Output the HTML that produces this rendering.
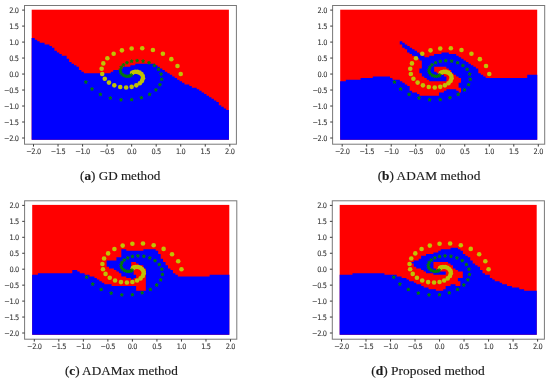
<!DOCTYPE html>
<html><head><meta charset="utf-8"><title>Figure</title><style>html,body{margin:0;padding:0;background:#fff}svg{display:block}</style></head><body>
<svg width="550" height="383" viewBox="0 0 550 383">
<rect width="550" height="383" fill="#fff"/>
<g>
<rect x="31.70" y="9.70" width="197.20" height="130.10" fill="#ff0000"/>
<path fill="#0000ff" d="M31.65 38.08H34.78V139.80H31.65zM34.68 39.68H37.23V139.80H34.68zM37.13 41.28H39.68V139.80H37.13zM39.58 42.87H42.14V139.80H39.58zM42.04 42.87H44.59V139.80H42.04zM44.49 44.47H47.05V139.80H44.49zM46.95 44.47H49.50V139.80H46.95zM49.40 46.07H51.95V139.80H49.40zM51.85 47.67H54.41V139.80H51.85zM54.31 50.87H56.86V139.80H54.31zM56.76 52.47H59.31V139.80H56.76zM59.21 54.07H61.77V139.80H59.21zM61.67 55.66H64.22V139.80H61.67zM64.12 55.66H66.68V139.80H64.12zM66.58 58.86H69.13V139.80H66.58zM69.03 62.06H71.58V139.80H69.03zM71.48 63.66H74.04V139.80H71.48zM73.94 65.26H76.49V139.80H73.94zM76.39 66.86H78.94V139.80H76.39zM78.84 70.05H81.40V139.80H78.84zM81.30 71.65H83.85V139.80H81.30zM83.75 73.25H86.31V139.80H83.75zM86.21 73.25H88.76V139.80H86.21zM88.66 73.25H91.21V139.80H88.66zM91.11 73.25H93.67V139.80H91.11zM93.57 73.25H96.12V139.80H93.57zM96.02 73.25H98.57V139.80H96.02zM98.47 73.25H101.03V139.80H98.47zM100.93 73.25H103.48V139.80H100.93zM103.38 73.25H105.94V139.80H103.38zM105.84 73.25H108.39V139.80H105.84zM108.29 73.25H110.84V139.80H108.29zM110.74 71.65H113.30V139.80H110.74zM113.20 70.05H115.75V139.80H113.20zM115.65 70.05H118.20V139.80H115.65zM118.10 70.05H120.66V139.80H118.10zM120.56 68.45H123.11V139.80H120.56zM123.01 66.86H125.57V139.80H123.01zM125.47 66.86H128.02V139.80H125.47zM127.92 66.86H130.47V139.80H127.92zM130.37 65.26H132.93V139.80H130.37zM132.83 65.26H135.38V139.80H132.83zM135.28 63.66H137.83V139.80H135.28zM137.73 63.66H140.29V139.80H137.73zM140.19 63.66H142.74V139.80H140.19zM142.64 63.66H145.20V139.80H142.64zM145.10 63.66H147.65V139.80H145.10zM147.55 63.66H150.10V139.80H147.55zM150.00 63.66H152.56V139.80H150.00zM152.46 63.66H155.01V139.80H152.46zM154.91 65.26H157.46V139.80H154.91zM157.36 66.86H159.92V139.80H157.36zM159.82 68.45H162.37V139.80H159.82zM162.27 70.05H164.83V139.80H162.27zM164.73 71.65H167.28V139.80H164.73zM167.18 73.25H169.73V139.80H167.18zM169.63 74.85H172.19V139.80H169.63zM172.09 76.45H174.64V139.80H172.09zM174.54 78.05H177.09V139.80H174.54zM176.99 79.65H179.55V139.80H176.99zM179.45 81.24H182.00V139.80H179.45zM181.90 82.84H184.46V139.80H181.90zM184.36 84.44H186.91V139.80H184.36zM186.81 84.44H189.36V139.80H186.81zM189.26 86.04H191.82V139.80H189.26zM191.72 87.64H194.27V139.80H191.72zM194.17 87.64H196.72V139.80H194.17zM196.62 89.24H199.18V139.80H196.62zM199.08 90.84H201.63V139.80H199.08zM201.53 92.44H204.09V139.80H201.53zM203.99 94.03H206.54V139.80H203.99zM206.44 95.63H208.99V139.80H206.44zM208.89 97.23H211.45V139.80H208.89zM211.35 98.83H213.90V139.80H211.35zM213.80 100.43H216.35V139.80H213.80zM216.25 102.03H218.81V139.80H216.25zM218.71 105.23H221.26V139.80H218.71zM221.16 106.82H223.72V139.80H221.16zM223.62 108.42H226.17V139.80H223.62zM226.07 110.02H228.95V139.80H226.07z"/>
<g fill="#c0c204"><circle cx="180.73" cy="74.05" r="2.30"/><circle cx="177.47" cy="66.05" r="2.30"/><circle cx="171.32" cy="59.13" r="2.30"/><circle cx="162.88" cy="53.70" r="2.30"/><circle cx="152.92" cy="50.05" r="2.30"/><circle cx="142.23" cy="48.31" r="2.30"/><circle cx="131.65" cy="48.47" r="2.30"/><circle cx="121.91" cy="50.37" r="2.30"/><circle cx="113.66" cy="53.74" r="2.30"/><circle cx="107.36" cy="58.22" r="2.30"/><circle cx="103.32" cy="63.39" r="2.30"/><circle cx="101.63" cy="68.81" r="2.30"/><circle cx="102.20" cy="74.05" r="2.30"/><circle cx="104.79" cy="78.74" r="2.30"/><circle cx="108.98" cy="82.58" r="2.30"/><circle cx="114.30" cy="85.35" r="2.30"/><circle cx="120.20" cy="86.97" r="2.30"/><circle cx="126.15" cy="87.43" r="2.30"/><circle cx="131.65" cy="86.84" r="2.30"/><circle cx="136.31" cy="85.37" r="2.30"/><circle cx="139.83" cy="83.28" r="2.30"/><circle cx="142.06" cy="80.83" r="2.30"/><circle cx="142.98" cy="78.31" r="2.30"/><circle cx="142.71" cy="75.98" r="2.30"/><circle cx="141.47" cy="74.05" r="2.30"/><circle cx="139.55" cy="72.67" r="2.30"/><circle cx="137.32" cy="71.92" r="2.30"/><circle cx="135.12" cy="71.79" r="2.30"/><circle cx="133.29" cy="72.20" r="2.30"/><circle cx="132.07" cy="73.02" r="2.30"/></g>
<g fill="#008000" stroke="#008000" stroke-width="0.7" stroke-linejoin="round"><polygon points="85.83,80.30 86.30,81.40 87.49,81.51 86.59,82.30 86.86,83.47 85.83,82.85 84.80,83.47 85.07,82.30 84.16,81.51 85.36,81.40"/><polygon points="91.98,87.22 92.45,88.32 93.65,88.43 92.74,89.22 93.01,90.39 91.98,89.77 90.95,90.39 91.22,89.22 90.32,88.43 91.51,88.32"/><polygon points="100.42,92.65 100.89,93.75 102.08,93.86 101.18,94.65 101.45,95.81 100.42,95.20 99.39,95.81 99.66,94.65 98.75,93.86 99.95,93.75"/><polygon points="110.38,96.30 110.85,97.40 112.05,97.51 111.15,98.30 111.41,99.46 110.38,98.85 109.36,99.46 109.62,98.30 108.72,97.51 109.91,97.40"/><polygon points="121.07,98.04 121.54,99.14 122.73,99.25 121.83,100.04 122.09,101.20 121.07,100.59 120.04,101.20 120.30,100.04 119.40,99.25 120.60,99.14"/><polygon points="131.65,97.88 132.12,98.98 133.31,99.09 132.41,99.88 132.68,101.05 131.65,100.43 130.62,101.05 130.89,99.88 129.99,99.09 131.18,98.98"/><polygon points="141.39,95.98 141.86,97.08 143.05,97.19 142.15,97.98 142.42,99.14 141.39,98.53 140.36,99.14 140.63,97.98 139.72,97.19 140.92,97.08"/><polygon points="149.64,92.61 150.11,93.71 151.31,93.82 150.41,94.60 150.67,95.77 149.64,95.16 148.62,95.77 148.88,94.60 147.98,93.82 149.17,93.71"/><polygon points="155.94,88.13 156.41,89.23 157.61,89.34 156.70,90.12 156.97,91.29 155.94,90.68 154.91,91.29 155.18,90.12 154.28,89.34 155.47,89.23"/><polygon points="159.98,82.96 160.45,84.06 161.65,84.17 160.74,84.96 161.01,86.12 159.98,85.51 158.95,86.12 159.22,84.96 158.32,84.17 159.51,84.06"/><polygon points="161.67,77.54 162.14,78.64 163.34,78.75 162.43,79.54 162.70,80.71 161.67,80.09 160.64,80.71 160.91,79.54 160.01,78.75 161.20,78.64"/><polygon points="161.10,72.30 161.57,73.40 162.76,73.51 161.86,74.30 162.12,75.47 161.10,74.85 160.07,75.47 160.33,74.30 159.43,73.51 160.62,73.40"/><polygon points="158.51,67.61 158.98,68.71 160.18,68.82 159.27,69.61 159.54,70.78 158.51,70.16 157.48,70.78 157.75,69.61 156.85,68.82 158.04,68.71"/><polygon points="154.32,63.77 154.79,64.88 155.98,64.98 155.08,65.77 155.35,66.94 154.32,66.32 153.29,66.94 153.56,65.77 152.65,64.98 153.85,64.88"/><polygon points="149.00,61.00 149.47,62.10 150.66,62.20 149.76,62.99 150.03,64.16 149.00,63.55 147.97,64.16 148.24,62.99 147.34,62.20 148.53,62.10"/><polygon points="143.10,59.38 143.57,60.48 144.77,60.59 143.86,61.37 144.13,62.54 143.10,61.93 142.07,62.54 142.34,61.37 141.44,60.59 142.63,60.48"/><polygon points="137.15,58.92 137.62,60.02 138.82,60.13 137.91,60.91 138.18,62.08 137.15,61.47 136.13,62.08 136.39,60.91 135.49,60.13 136.68,60.02"/><polygon points="131.65,59.51 132.12,60.61 133.31,60.72 132.41,61.51 132.68,62.68 131.65,62.06 130.62,62.68 130.89,61.51 129.99,60.72 131.18,60.61"/><polygon points="126.99,60.98 127.46,62.08 128.66,62.18 127.75,62.97 128.02,64.14 126.99,63.53 125.96,64.14 126.23,62.97 125.33,62.18 126.52,62.08"/><polygon points="123.47,63.07 123.94,64.17 125.14,64.28 124.23,65.07 124.50,66.24 123.47,65.62 122.44,66.24 122.71,65.07 121.81,64.28 123.00,64.17"/><polygon points="121.24,65.52 121.71,66.62 122.90,66.73 122.00,67.51 122.27,68.68 121.24,68.07 120.21,68.68 120.48,67.51 119.58,66.73 120.77,66.62"/><polygon points="120.32,68.04 120.79,69.14 121.98,69.25 121.08,70.03 121.35,71.20 120.32,70.59 119.29,71.20 119.56,70.03 118.65,69.25 119.85,69.14"/><polygon points="120.59,70.37 121.06,71.47 122.25,71.58 121.35,72.37 121.62,73.53 120.59,72.92 119.56,73.53 119.83,72.37 118.92,71.58 120.12,71.47"/><polygon points="121.84,72.30 122.31,73.40 123.50,73.51 122.60,74.30 122.86,75.47 121.84,74.85 120.81,75.47 121.07,74.30 120.17,73.51 121.36,73.40"/><polygon points="123.75,73.68 124.22,74.78 125.41,74.89 124.51,75.68 124.78,76.85 123.75,76.23 122.72,76.85 122.99,75.68 122.09,74.89 123.28,74.78"/><polygon points="125.98,74.43 126.45,75.53 127.65,75.64 126.74,76.43 127.01,77.60 125.98,76.98 124.95,77.60 125.22,76.43 124.32,75.64 125.51,75.53"/><polygon points="128.18,74.56 128.65,75.66 129.84,75.77 128.94,76.56 129.21,77.73 128.18,77.11 127.15,77.73 127.42,76.56 126.52,75.77 127.71,75.66"/><polygon points="130.01,74.15 130.48,75.25 131.68,75.36 130.78,76.14 131.04,77.31 130.01,76.70 128.99,77.31 129.25,76.14 128.35,75.36 129.54,75.25"/><polygon points="131.23,73.33 131.70,74.43 132.89,74.54 131.99,75.33 132.26,76.50 131.23,75.88 130.20,76.50 130.47,75.33 129.56,74.54 130.76,74.43"/></g>
<rect x="24.50" y="5.50" width="211.90" height="138.70" fill="none" stroke="#787878" stroke-width="1"/>
<path d="M33.50 144.20v2.4M24.50 138.00h-2.4M58.04 144.20v2.4M24.50 122.01h-2.4M82.58 144.20v2.4M24.50 106.03h-2.4M107.11 144.20v2.4M24.50 90.04h-2.4M131.65 144.20v2.4M24.50 74.05h-2.4M156.19 144.20v2.4M24.50 58.06h-2.4M180.73 144.20v2.4M24.50 42.08h-2.4M205.26 144.20v2.4M24.50 26.09h-2.4M229.80 144.20v2.4M24.50 10.10h-2.4" stroke="#3a3a3a" stroke-width="1" fill="none"/>
<g font-family="'DejaVu Sans','Liberation Sans',sans-serif" font-size="6.60" fill="#333333" stroke="#333333" stroke-width="0.08" letter-spacing="-0.35" text-rendering="geometricPrecision">
<text transform="translate(33.50 153.60) scale(1 1.14)" text-anchor="middle">−2.0</text>
<text transform="translate(18.60 140.60) scale(1 1.14)" text-anchor="end">−2.0</text>
<text transform="translate(58.04 153.60) scale(1 1.14)" text-anchor="middle">−1.5</text>
<text transform="translate(18.60 124.61) scale(1 1.14)" text-anchor="end">−1.5</text>
<text transform="translate(82.58 153.60) scale(1 1.14)" text-anchor="middle">−1.0</text>
<text transform="translate(18.60 108.62) scale(1 1.14)" text-anchor="end">−1.0</text>
<text transform="translate(107.11 153.60) scale(1 1.14)" text-anchor="middle">−0.5</text>
<text transform="translate(18.60 92.64) scale(1 1.14)" text-anchor="end">−0.5</text>
<text transform="translate(131.65 153.60) scale(1 1.14)" text-anchor="middle">0.0</text>
<text transform="translate(18.60 76.65) scale(1 1.14)" text-anchor="end">0.0</text>
<text transform="translate(156.19 153.60) scale(1 1.14)" text-anchor="middle">0.5</text>
<text transform="translate(18.60 60.66) scale(1 1.14)" text-anchor="end">0.5</text>
<text transform="translate(180.73 153.60) scale(1 1.14)" text-anchor="middle">1.0</text>
<text transform="translate(18.60 44.68) scale(1 1.14)" text-anchor="end">1.0</text>
<text transform="translate(205.26 153.60) scale(1 1.14)" text-anchor="middle">1.5</text>
<text transform="translate(18.60 28.69) scale(1 1.14)" text-anchor="end">1.5</text>
<text transform="translate(229.80 153.60) scale(1 1.14)" text-anchor="middle">2.0</text>
<text transform="translate(18.60 12.70) scale(1 1.14)" text-anchor="end">2.0</text>
</g>
<text x="80.10" y="180.30" textLength="80.20" lengthAdjust="spacingAndGlyphs" stroke="#1a1a1a" stroke-width="0.15" font-family="'Liberation Serif',serif" font-size="12.6" fill="#1a1a1a">(<tspan font-weight="bold">a</tspan>) GD method</text>
</g>
<g>
<rect x="340.20" y="9.70" width="197.00" height="130.10" fill="#ff0000"/>
<path fill="#0000ff" d="M340.15 81.24H343.48V139.80H340.15zM343.38 81.24H345.93V139.80H343.38zM345.83 79.65H348.38V139.80H345.83zM348.28 79.65H350.83V139.80H348.28zM350.73 79.65H353.28V139.80H350.73zM353.18 79.65H355.73V139.80H353.18zM355.63 79.65H358.18V139.80H355.63zM358.08 79.65H360.63V139.80H358.08zM360.53 78.05H363.09V139.80H360.53zM362.99 78.05H365.54V139.80H362.99zM365.44 78.05H367.99V139.80H365.44zM367.89 78.05H370.44V139.80H367.89zM370.34 78.05H372.89V139.80H370.34zM372.79 76.45H375.34V139.80H372.79zM375.24 76.45H377.79V139.80H375.24zM377.69 76.45H380.24V139.80H377.69zM380.14 76.45H382.70V139.80H380.14zM382.60 76.45H385.15V139.80H382.60zM385.05 76.45H387.60V139.80H385.05zM387.50 76.45H390.05V139.80H387.50zM389.95 78.05H392.50V139.80H389.95zM392.40 79.65H394.95V139.80H392.40zM394.85 79.65H397.40V139.80H394.85zM397.30 79.65H399.85V139.80H397.30zM399.75 41.28H402.31V44.47H399.75zM399.75 81.24H402.31V139.80H399.75zM402.21 42.87H404.76V47.67H402.21zM402.21 82.84H404.76V139.80H402.21zM404.66 44.47H407.21V49.27H404.66zM404.66 84.44H407.21V139.80H404.66zM407.11 46.07H409.66V52.47H407.11zM407.11 86.04H409.66V139.80H407.11zM409.56 47.67H412.11V54.07H409.56zM409.56 90.84H412.11V139.80H409.56zM412.01 49.27H414.56V55.66H412.01zM412.01 92.44H414.56V139.80H412.01zM414.46 50.87H417.01V57.26H414.46zM414.46 92.44H417.01V139.80H414.46zM416.91 52.47H419.46V58.86H416.91zM416.91 94.03H419.46V139.80H416.91zM419.36 54.07H421.92V60.46H419.36zM419.36 68.45H421.92V73.25H419.36zM419.36 95.63H421.92V139.80H419.36zM421.82 55.66H424.37V76.45H421.82zM421.82 95.63H424.37V139.80H421.82zM424.27 57.26H426.82V78.05H424.27zM424.27 95.63H426.82V139.80H424.27zM426.72 57.26H429.27V79.65H426.72zM426.72 95.63H429.27V139.80H426.72zM429.17 55.66H431.72V81.24H429.17zM429.17 95.63H431.72V139.80H429.17zM431.62 55.66H434.17V81.24H431.62zM431.62 95.63H434.17V139.80H431.62zM434.07 54.07H436.62V66.86H434.07zM434.07 71.65H436.62V81.24H434.07zM434.07 95.63H436.62V139.80H434.07zM436.52 54.07H439.07V66.86H436.52zM436.52 73.25H439.07V81.24H436.52zM436.52 95.63H439.07V139.80H436.52zM438.97 54.07H441.53V66.86H438.97zM438.97 74.85H441.53V81.24H438.97zM438.97 92.44H441.53V139.80H438.97zM441.43 52.47H443.98V66.86H441.43zM441.43 74.85H443.98V81.24H441.43zM441.43 92.44H443.98V139.80H441.43zM443.88 52.47H446.43V66.86H443.88zM443.88 76.45H446.43V81.24H443.88zM443.88 90.84H446.43V139.80H443.88zM446.33 52.47H448.88V68.45H446.33zM446.33 89.24H448.88V139.80H446.33zM448.78 54.07H451.33V70.05H448.78zM448.78 89.24H451.33V139.80H448.78zM451.23 54.07H453.78V73.25H451.23zM451.23 89.24H453.78V139.80H451.23zM453.68 54.07H456.23V74.85H453.68zM453.68 89.24H456.23V139.80H453.68zM456.13 55.66H458.68V76.45H456.13zM456.13 90.84H458.68V139.80H456.13zM458.58 57.26H461.14V78.05H458.58zM458.58 82.84H461.14V87.64H458.58zM458.58 92.44H461.14V139.80H458.58zM461.04 58.86H463.59V139.80H461.04zM463.49 60.46H466.04V139.80H463.49zM465.94 62.06H468.49V139.80H465.94zM468.39 63.66H470.94V139.80H468.39zM470.84 65.26H473.39V139.80H470.84zM473.29 66.86H475.84V139.80H473.29zM475.74 68.45H478.29V139.80H475.74zM478.19 73.25H480.75V139.80H478.19zM480.65 74.85H483.20V139.80H480.65zM483.10 76.45H485.65V139.80H483.10zM485.55 78.05H488.10V139.80H485.55zM488.00 78.05H490.55V139.80H488.00zM490.45 78.05H493.00V139.80H490.45zM492.90 78.05H495.45V139.80H492.90zM495.35 78.05H497.90V139.80H495.35zM497.80 78.05H500.36V139.80H497.80zM500.26 78.05H502.81V139.80H500.26zM502.71 78.05H505.26V139.80H502.71zM505.16 78.05H507.71V139.80H505.16zM507.61 78.05H510.16V139.80H507.61zM510.06 78.05H512.61V139.80H510.06zM512.51 78.05H515.06V139.80H512.51zM514.96 78.05H517.51V139.80H514.96zM517.41 78.05H519.97V139.80H517.41zM519.87 78.05H522.42V139.80H519.87zM522.32 78.05H524.87V139.80H522.32zM524.77 78.05H527.32V139.80H524.77zM527.22 74.85H529.77V139.80H527.22zM529.67 74.85H532.22V139.80H529.67zM532.12 74.85H534.67V139.80H532.12zM534.57 74.85H537.25V139.80H534.57z"/>
<g fill="#c0c204"><circle cx="489.27" cy="74.05" r="2.30"/><circle cx="486.03" cy="66.05" r="2.30"/><circle cx="479.88" cy="59.13" r="2.30"/><circle cx="471.45" cy="53.70" r="2.30"/><circle cx="461.49" cy="50.05" r="2.30"/><circle cx="450.82" cy="48.31" r="2.30"/><circle cx="440.25" cy="48.47" r="2.30"/><circle cx="430.52" cy="50.37" r="2.30"/><circle cx="422.27" cy="53.74" r="2.30"/><circle cx="415.98" cy="58.22" r="2.30"/><circle cx="411.95" cy="63.39" r="2.30"/><circle cx="410.26" cy="68.81" r="2.30"/><circle cx="410.83" cy="74.05" r="2.30"/><circle cx="413.42" cy="78.74" r="2.30"/><circle cx="417.61" cy="82.58" r="2.30"/><circle cx="422.92" cy="85.35" r="2.30"/><circle cx="428.81" cy="86.97" r="2.30"/><circle cx="434.75" cy="87.43" r="2.30"/><circle cx="440.25" cy="86.84" r="2.30"/><circle cx="444.90" cy="85.37" r="2.30"/><circle cx="448.42" cy="83.28" r="2.30"/><circle cx="450.65" cy="80.83" r="2.30"/><circle cx="451.57" cy="78.31" r="2.30"/><circle cx="451.30" cy="75.98" r="2.30"/><circle cx="450.05" cy="74.05" r="2.30"/><circle cx="448.14" cy="72.67" r="2.30"/><circle cx="445.91" cy="71.92" r="2.30"/><circle cx="443.72" cy="71.79" r="2.30"/><circle cx="441.88" cy="72.20" r="2.30"/><circle cx="440.67" cy="73.02" r="2.30"/></g>
<g fill="#008000" stroke="#008000" stroke-width="0.7" stroke-linejoin="round"><polygon points="394.47,80.30 394.94,81.40 396.14,81.51 395.23,82.30 395.50,83.47 394.47,82.85 393.45,83.47 393.71,82.30 392.81,81.51 394.00,81.40"/><polygon points="400.62,87.22 401.09,88.32 402.29,88.43 401.38,89.22 401.65,90.39 400.62,89.77 399.59,90.39 399.86,89.22 398.96,88.43 400.15,88.32"/><polygon points="409.05,92.65 409.52,93.75 410.72,93.86 409.81,94.65 410.08,95.81 409.05,95.20 408.02,95.81 408.29,94.65 407.39,93.86 408.58,93.75"/><polygon points="419.01,96.30 419.48,97.40 420.67,97.51 419.77,98.30 420.03,99.46 419.01,98.85 417.98,99.46 418.24,98.30 417.34,97.51 418.54,97.40"/><polygon points="429.68,98.04 430.15,99.14 431.34,99.25 430.44,100.04 430.70,101.20 429.68,100.59 428.65,101.20 428.92,100.04 428.01,99.25 429.21,99.14"/><polygon points="440.25,97.88 440.72,98.98 441.91,99.09 441.01,99.88 441.28,101.05 440.25,100.43 439.22,101.05 439.49,99.88 438.59,99.09 439.78,98.98"/><polygon points="449.98,95.98 450.45,97.08 451.64,97.19 450.74,97.98 451.01,99.14 449.98,98.53 448.95,99.14 449.22,97.98 448.31,97.19 449.51,97.08"/><polygon points="458.23,92.61 458.70,93.71 459.89,93.82 458.99,94.60 459.25,95.77 458.23,95.16 457.20,95.77 457.46,94.60 456.56,93.82 457.76,93.71"/><polygon points="464.52,88.13 464.99,89.23 466.18,89.34 465.28,90.12 465.54,91.29 464.52,90.68 463.49,91.29 463.76,90.12 462.85,89.34 464.05,89.23"/><polygon points="468.55,82.96 469.02,84.06 470.22,84.17 469.32,84.96 469.58,86.12 468.55,85.51 467.53,86.12 467.79,84.96 466.89,84.17 468.08,84.06"/><polygon points="470.24,77.54 470.71,78.64 471.91,78.75 471.00,79.54 471.27,80.71 470.24,80.09 469.21,80.71 469.48,79.54 468.58,78.75 469.77,78.64"/><polygon points="469.66,72.30 470.14,73.40 471.33,73.51 470.43,74.30 470.69,75.47 469.66,74.85 468.64,75.47 468.90,74.30 468.00,73.51 469.19,73.40"/><polygon points="467.08,67.61 467.55,68.71 468.75,68.82 467.85,69.61 468.11,70.78 467.08,70.16 466.06,70.78 466.32,69.61 465.42,68.82 466.61,68.71"/><polygon points="462.89,63.77 463.36,64.88 464.56,64.98 463.65,65.77 463.92,66.94 462.89,66.32 461.87,66.94 462.13,65.77 461.23,64.98 462.42,64.88"/><polygon points="457.58,61.00 458.05,62.10 459.25,62.20 458.34,62.99 458.61,64.16 457.58,63.55 456.55,64.16 456.82,62.99 455.92,62.20 457.11,62.10"/><polygon points="451.69,59.38 452.16,60.48 453.35,60.59 452.45,61.37 452.72,62.54 451.69,61.93 450.66,62.54 450.93,61.37 450.02,60.59 451.22,60.48"/><polygon points="445.75,58.92 446.22,60.02 447.41,60.13 446.51,60.91 446.78,62.08 445.75,61.47 444.72,62.08 444.99,60.91 444.08,60.13 445.28,60.02"/><polygon points="440.25,59.51 440.72,60.61 441.91,60.72 441.01,61.51 441.28,62.68 440.25,62.06 439.22,62.68 439.49,61.51 438.59,60.72 439.78,60.61"/><polygon points="435.60,60.98 436.07,62.08 437.26,62.18 436.36,62.97 436.63,64.14 435.60,63.53 434.57,64.14 434.84,62.97 433.93,62.18 435.13,62.08"/><polygon points="432.08,63.07 432.55,64.17 433.74,64.28 432.84,65.07 433.11,66.24 432.08,65.62 431.05,66.24 431.32,65.07 430.41,64.28 431.61,64.17"/><polygon points="429.85,65.52 430.32,66.62 431.51,66.73 430.61,67.51 430.88,68.68 429.85,68.07 428.82,68.68 429.09,67.51 428.19,66.73 429.38,66.62"/><polygon points="428.93,68.04 429.40,69.14 430.59,69.25 429.69,70.03 429.96,71.20 428.93,70.59 427.90,71.20 428.17,70.03 427.26,69.25 428.46,69.14"/><polygon points="429.20,70.37 429.67,71.47 430.86,71.58 429.96,72.37 430.23,73.53 429.20,72.92 428.17,73.53 428.44,72.37 427.54,71.58 428.73,71.47"/><polygon points="430.44,72.30 430.92,73.40 432.11,73.51 431.21,74.30 431.47,75.47 430.44,74.85 429.42,75.47 429.68,74.30 428.78,73.51 429.97,73.40"/><polygon points="432.36,73.68 432.83,74.78 434.02,74.89 433.12,75.68 433.39,76.85 432.36,76.23 431.33,76.85 431.60,75.68 430.69,74.89 431.89,74.78"/><polygon points="434.59,74.43 435.06,75.53 436.25,75.64 435.35,76.43 435.62,77.60 434.59,76.98 433.56,77.60 433.83,76.43 432.92,75.64 434.12,75.53"/><polygon points="436.78,74.56 437.25,75.66 438.45,75.77 437.54,76.56 437.81,77.73 436.78,77.11 435.75,77.73 436.02,76.56 435.12,75.77 436.31,75.66"/><polygon points="438.62,74.15 439.09,75.25 440.28,75.36 439.38,76.14 439.64,77.31 438.62,76.70 437.59,77.31 437.85,76.14 436.95,75.36 438.15,75.25"/><polygon points="439.83,73.33 440.30,74.43 441.49,74.54 440.59,75.33 440.86,76.50 439.83,75.88 438.80,76.50 439.07,75.33 438.16,74.54 439.36,74.43"/></g>
<rect x="332.60" y="5.50" width="212.10" height="138.70" fill="none" stroke="#787878" stroke-width="1"/>
<path d="M342.20 144.20v2.4M332.60 138.00h-2.4M366.71 144.20v2.4M332.60 122.01h-2.4M391.22 144.20v2.4M332.60 106.03h-2.4M415.74 144.20v2.4M332.60 90.04h-2.4M440.25 144.20v2.4M332.60 74.05h-2.4M464.76 144.20v2.4M332.60 58.06h-2.4M489.27 144.20v2.4M332.60 42.08h-2.4M513.79 144.20v2.4M332.60 26.09h-2.4M538.30 144.20v2.4M332.60 10.10h-2.4" stroke="#3a3a3a" stroke-width="1" fill="none"/>
<g font-family="'DejaVu Sans','Liberation Sans',sans-serif" font-size="6.60" fill="#333333" stroke="#333333" stroke-width="0.08" letter-spacing="-0.35" text-rendering="geometricPrecision">
<text transform="translate(342.20 153.60) scale(1 1.14)" text-anchor="middle">−2.0</text>
<text transform="translate(327.00 140.60) scale(1 1.14)" text-anchor="end">−2.0</text>
<text transform="translate(366.71 153.60) scale(1 1.14)" text-anchor="middle">−1.5</text>
<text transform="translate(327.00 124.61) scale(1 1.14)" text-anchor="end">−1.5</text>
<text transform="translate(391.22 153.60) scale(1 1.14)" text-anchor="middle">−1.0</text>
<text transform="translate(327.00 108.62) scale(1 1.14)" text-anchor="end">−1.0</text>
<text transform="translate(415.74 153.60) scale(1 1.14)" text-anchor="middle">−0.5</text>
<text transform="translate(327.00 92.64) scale(1 1.14)" text-anchor="end">−0.5</text>
<text transform="translate(440.25 153.60) scale(1 1.14)" text-anchor="middle">0.0</text>
<text transform="translate(327.00 76.65) scale(1 1.14)" text-anchor="end">0.0</text>
<text transform="translate(464.76 153.60) scale(1 1.14)" text-anchor="middle">0.5</text>
<text transform="translate(327.00 60.66) scale(1 1.14)" text-anchor="end">0.5</text>
<text transform="translate(489.27 153.60) scale(1 1.14)" text-anchor="middle">1.0</text>
<text transform="translate(327.00 44.68) scale(1 1.14)" text-anchor="end">1.0</text>
<text transform="translate(513.79 153.60) scale(1 1.14)" text-anchor="middle">1.5</text>
<text transform="translate(327.00 28.69) scale(1 1.14)" text-anchor="end">1.5</text>
<text transform="translate(538.30 153.60) scale(1 1.14)" text-anchor="middle">2.0</text>
<text transform="translate(327.00 12.70) scale(1 1.14)" text-anchor="end">2.0</text>
</g>
<text x="377.70" y="180.20" textLength="102.60" lengthAdjust="spacingAndGlyphs" stroke="#1a1a1a" stroke-width="0.15" font-family="'Liberation Serif',serif" font-size="12.6" fill="#1a1a1a">(<tspan font-weight="bold">b</tspan>) ADAM method</text>
</g>
<g>
<rect x="32.20" y="204.90" width="197.10" height="129.90" fill="#ff0000"/>
<path fill="#0000ff" d="M32.15 274.78H35.58V334.80H32.15zM35.48 274.78H38.03V334.80H35.48zM37.93 273.19H40.48V334.80H37.93zM40.38 273.19H42.93V334.80H40.38zM42.83 273.19H45.39V334.80H42.83zM45.29 273.19H47.84V334.80H45.29zM47.74 273.19H50.29V334.80H47.74zM50.19 273.19H52.74V334.80H50.19zM52.64 273.19H55.20V334.80H52.64zM55.10 273.19H57.65V334.80H55.10zM57.55 273.19H60.10V334.80H57.55zM60.00 273.19H62.55V334.80H60.00zM62.45 273.19H65.01V334.80H62.45zM64.91 273.19H67.46V334.80H64.91zM67.36 273.19H69.91V334.80H67.36zM69.81 273.19H72.36V334.80H69.81zM72.26 270.00H74.82V334.80H72.26zM74.72 270.00H77.27V334.80H74.72zM77.17 271.59H79.72V334.80H77.17zM79.62 273.19H82.17V334.80H79.62zM82.07 273.19H84.63V334.80H82.07zM84.53 274.78H87.08V334.80H84.53zM86.98 274.78H89.53V334.80H86.98zM89.43 276.38H91.98V334.80H89.43zM91.88 276.38H94.44V334.80H91.88zM94.34 277.97H96.89V334.80H94.34zM96.79 279.57H99.34V334.80H96.79zM99.24 281.16H101.79V334.80H99.24zM101.69 282.76H104.25V334.80H101.69zM104.15 284.35H106.70V334.80H104.15zM106.60 260.43H109.15V266.81H106.60zM106.60 284.35H109.15V334.80H106.60zM109.05 260.43H111.60V268.40H109.05zM109.05 284.35H111.60V334.80H109.05zM111.50 260.43H114.06V268.40H111.50zM111.50 285.95H114.06V334.80H111.50zM113.96 260.43H116.51V270.00H113.96zM113.96 285.95H116.51V334.80H113.96zM116.41 257.24H118.96V271.59H116.41zM116.41 285.95H118.96V334.80H116.41zM118.86 257.24H121.41V273.19H118.86zM118.86 285.95H121.41V334.80H118.86zM121.31 249.26H123.87V276.38H121.31zM121.31 285.95H123.87V334.80H121.31zM123.77 249.26H126.32V276.38H123.77zM123.77 285.95H126.32V334.80H123.77zM126.22 250.86H128.77V277.97H126.22zM126.22 285.95H128.77V334.80H126.22zM128.67 250.86H131.22V277.97H128.67zM128.67 285.95H131.22V334.80H128.67zM131.12 250.86H133.68V262.02H131.12zM131.12 268.40H133.68V279.57H131.12zM131.12 285.95H133.68V334.80H131.12zM133.58 250.86H136.13V262.02H133.58zM133.58 274.78H136.13V277.97H133.58zM133.58 285.95H136.13V334.80H133.58zM136.03 250.86H138.58V263.62H136.03zM136.03 290.73H138.58V334.80H136.03zM138.48 250.86H141.03V265.21H138.48zM138.48 290.73H141.03V334.80H138.48zM140.93 250.86H143.49V265.21H140.93zM140.93 290.73H143.49V334.80H140.93zM143.39 249.26H145.94V268.40H143.39zM143.39 290.73H145.94V334.80H143.39zM145.84 249.26H148.39V334.80H145.84zM148.29 249.26H150.84V334.80H148.29zM150.74 249.26H153.30V334.80H150.74zM153.20 249.26H155.75V334.80H153.20zM155.65 250.86H158.20V334.80H155.65zM158.10 254.05H160.65V334.80H158.10zM160.55 258.83H163.11V334.80H160.55zM163.01 262.02H165.56V334.80H163.01zM165.46 265.21H168.01V334.80H165.46zM167.91 268.40H170.46V334.80H167.91zM170.36 270.00H172.92V334.80H170.36zM172.82 273.19H175.37V334.80H172.82zM175.27 274.78H177.82V334.80H175.27zM177.72 276.38H180.27V334.80H177.72zM180.17 276.38H182.73V334.80H180.17zM182.63 276.38H185.18V334.80H182.63zM185.08 276.38H187.63V334.80H185.08zM187.53 276.38H190.08V334.80H187.53zM189.98 276.38H192.54V334.80H189.98zM192.44 276.38H194.99V334.80H192.44zM194.89 276.38H197.44V334.80H194.89zM197.34 276.38H199.89V334.80H197.34zM199.79 276.38H202.35V334.80H199.79zM202.25 276.38H204.80V334.80H202.25zM204.70 276.38H207.25V334.80H204.70zM207.15 276.38H209.70V334.80H207.15zM209.60 274.78H212.16V334.80H209.60zM212.06 274.78H214.61V334.80H212.06zM214.51 274.78H217.06V334.80H214.51zM216.96 274.78H219.51V334.80H216.96zM219.41 274.78H221.97V334.80H219.41zM221.87 274.78H224.42V334.80H221.87zM224.32 274.78H226.87V334.80H224.32zM226.77 274.78H229.35V334.80H226.77z"/>
<g fill="#c0c204"><circle cx="181.45" cy="269.20" r="2.30"/><circle cx="178.20" cy="261.22" r="2.30"/><circle cx="172.05" cy="254.31" r="2.30"/><circle cx="163.62" cy="248.90" r="2.30"/><circle cx="153.66" cy="245.26" r="2.30"/><circle cx="142.98" cy="243.52" r="2.30"/><circle cx="132.40" cy="243.68" r="2.30"/><circle cx="122.67" cy="245.58" r="2.30"/><circle cx="114.42" cy="248.94" r="2.30"/><circle cx="108.12" cy="253.41" r="2.30"/><circle cx="104.08" cy="258.57" r="2.30"/><circle cx="102.39" cy="263.97" r="2.30"/><circle cx="102.97" cy="269.20" r="2.30"/><circle cx="105.55" cy="273.88" r="2.30"/><circle cx="109.74" cy="277.71" r="2.30"/><circle cx="115.06" cy="280.48" r="2.30"/><circle cx="120.95" cy="282.09" r="2.30"/><circle cx="126.90" cy="282.55" r="2.30"/><circle cx="132.40" cy="281.96" r="2.30"/><circle cx="137.05" cy="280.50" r="2.30"/><circle cx="140.57" cy="278.41" r="2.30"/><circle cx="142.81" cy="275.97" r="2.30"/><circle cx="143.73" cy="273.45" r="2.30"/><circle cx="143.46" cy="271.13" r="2.30"/><circle cx="142.21" cy="269.20" r="2.30"/><circle cx="140.30" cy="267.82" r="2.30"/><circle cx="138.06" cy="267.07" r="2.30"/><circle cx="135.87" cy="266.94" r="2.30"/><circle cx="134.03" cy="267.36" r="2.30"/><circle cx="132.82" cy="268.17" r="2.30"/></g>
<g fill="#008000" stroke="#008000" stroke-width="0.7" stroke-linejoin="round"><polygon points="86.60,275.43 87.07,276.53 88.26,276.64 87.36,277.43 87.63,278.60 86.60,277.98 85.57,278.60 85.84,277.43 84.94,276.64 86.13,276.53"/><polygon points="92.75,282.34 93.22,283.44 94.42,283.55 93.51,284.33 93.78,285.50 92.75,284.89 91.72,285.50 91.99,284.33 91.09,283.55 92.28,283.44"/><polygon points="101.18,287.75 101.65,288.85 102.85,288.96 101.95,289.75 102.21,290.92 101.18,290.30 100.16,290.92 100.42,289.75 99.52,288.96 100.71,288.85"/><polygon points="111.14,291.39 111.62,292.50 112.81,292.60 111.91,293.39 112.17,294.56 111.14,293.94 110.12,294.56 110.38,293.39 109.48,292.60 110.67,292.50"/><polygon points="121.82,293.13 122.29,294.23 123.49,294.34 122.58,295.12 122.85,296.29 121.82,295.68 120.79,296.29 121.06,295.12 120.16,294.34 121.35,294.23"/><polygon points="132.40,292.97 132.87,294.07 134.06,294.18 133.16,294.97 133.43,296.14 132.40,295.52 131.37,296.14 131.64,294.97 130.74,294.18 131.93,294.07"/><polygon points="142.13,291.07 142.60,292.18 143.80,292.28 142.89,293.07 143.16,294.24 142.13,293.62 141.10,294.24 141.37,293.07 140.47,292.28 141.66,292.18"/><polygon points="150.38,287.71 150.86,288.81 152.05,288.92 151.15,289.71 151.41,290.88 150.38,290.26 149.36,290.88 149.62,289.71 148.72,288.92 149.91,288.81"/><polygon points="156.68,283.24 157.15,284.34 158.34,284.45 157.44,285.24 157.71,286.41 156.68,285.79 155.65,286.41 155.92,285.24 155.01,284.45 156.21,284.34"/><polygon points="160.72,278.08 161.19,279.19 162.38,279.29 161.48,280.08 161.75,281.25 160.72,280.63 159.69,281.25 159.96,280.08 159.05,279.29 160.25,279.19"/><polygon points="162.41,272.68 162.88,273.78 164.07,273.89 163.17,274.68 163.44,275.84 162.41,275.23 161.38,275.84 161.65,274.68 160.74,273.89 161.94,273.78"/><polygon points="161.83,267.45 162.30,268.55 163.49,268.66 162.59,269.45 162.86,270.62 161.83,270.00 160.80,270.62 161.07,269.45 160.17,268.66 161.36,268.55"/><polygon points="159.25,262.77 159.72,263.87 160.91,263.98 160.01,264.77 160.28,265.94 159.25,265.32 158.22,265.94 158.49,264.77 157.58,263.98 158.78,263.87"/><polygon points="155.06,258.94 155.53,260.05 156.72,260.15 155.82,260.94 156.08,262.11 155.06,261.49 154.03,262.11 154.29,260.94 153.39,260.15 154.58,260.05"/><polygon points="149.74,256.17 150.21,257.27 151.41,257.38 150.50,258.17 150.77,259.34 149.74,258.72 148.71,259.34 148.98,258.17 148.08,257.38 149.27,257.27"/><polygon points="143.84,254.56 144.32,255.66 145.51,255.77 144.61,256.55 144.87,257.72 143.84,257.11 142.82,257.72 143.08,256.55 142.18,255.77 143.37,255.66"/><polygon points="137.90,254.10 138.37,255.20 139.57,255.31 138.66,256.09 138.93,257.26 137.90,256.65 136.87,257.26 137.14,256.09 136.24,255.31 137.43,255.20"/><polygon points="132.40,254.69 132.87,255.79 134.06,255.90 133.16,256.69 133.43,257.86 132.40,257.24 131.37,257.86 131.64,256.69 130.74,255.90 131.93,255.79"/><polygon points="127.75,256.15 128.22,257.25 129.41,257.36 128.51,258.15 128.77,259.32 127.75,258.70 126.72,259.32 126.98,258.15 126.08,257.36 127.27,257.25"/><polygon points="124.22,258.24 124.70,259.34 125.89,259.45 124.99,260.24 125.25,261.41 124.22,260.79 123.20,261.41 123.46,260.24 122.56,259.45 123.75,259.34"/><polygon points="121.99,260.68 122.47,261.79 123.66,261.89 122.76,262.68 123.02,263.85 121.99,263.23 120.97,263.85 121.23,262.68 120.33,261.89 121.52,261.79"/><polygon points="121.07,263.20 121.54,264.30 122.74,264.41 121.83,265.19 122.10,266.36 121.07,265.75 120.04,266.36 120.31,265.19 119.41,264.41 120.60,264.30"/><polygon points="121.34,265.52 121.82,266.63 123.01,266.73 122.11,267.52 122.37,268.69 121.34,268.07 120.32,268.69 120.58,267.52 119.68,266.73 120.87,266.63"/><polygon points="122.59,267.45 123.06,268.55 124.25,268.66 123.35,269.45 123.62,270.62 122.59,270.00 121.56,270.62 121.83,269.45 120.93,268.66 122.12,268.55"/><polygon points="124.50,268.83 124.97,269.93 126.17,270.04 125.26,270.82 125.53,271.99 124.50,271.38 123.47,271.99 123.74,270.82 122.84,270.04 124.03,269.93"/><polygon points="126.74,269.58 127.21,270.68 128.40,270.79 127.50,271.57 127.76,272.74 126.74,272.13 125.71,272.74 125.98,271.57 125.07,270.79 126.27,270.68"/><polygon points="128.93,269.71 129.40,270.81 130.60,270.91 129.69,271.70 129.96,272.87 128.93,272.26 127.90,272.87 128.17,271.70 127.27,270.91 128.46,270.81"/><polygon points="130.76,269.29 131.24,270.39 132.43,270.50 131.53,271.29 131.79,272.46 130.76,271.84 129.74,272.46 130.00,271.29 129.10,270.50 130.29,270.39"/><polygon points="131.98,268.48 132.45,269.58 133.64,269.69 132.74,270.47 133.01,271.64 131.98,271.03 130.95,271.64 131.22,270.47 130.31,269.69 131.51,269.58"/></g>
<rect x="24.60" y="200.80" width="212.20" height="138.40" fill="none" stroke="#787878" stroke-width="1"/>
<path d="M34.30 339.20v2.4M24.60 333.00h-2.4M58.82 339.20v2.4M24.60 317.05h-2.4M83.35 339.20v2.4M24.60 301.10h-2.4M107.87 339.20v2.4M24.60 285.15h-2.4M132.40 339.20v2.4M24.60 269.20h-2.4M156.93 339.20v2.4M24.60 253.25h-2.4M181.45 339.20v2.4M24.60 237.30h-2.4M205.97 339.20v2.4M24.60 221.35h-2.4M230.50 339.20v2.4M24.60 205.40h-2.4" stroke="#3a3a3a" stroke-width="1" fill="none"/>
<g font-family="'DejaVu Sans','Liberation Sans',sans-serif" font-size="6.60" fill="#333333" stroke="#333333" stroke-width="0.08" letter-spacing="-0.35" text-rendering="geometricPrecision">
<text transform="translate(34.30 348.60) scale(1 1.14)" text-anchor="middle">−2.0</text>
<text transform="translate(18.90 335.60) scale(1 1.14)" text-anchor="end">−2.0</text>
<text transform="translate(58.82 348.60) scale(1 1.14)" text-anchor="middle">−1.5</text>
<text transform="translate(18.90 319.65) scale(1 1.14)" text-anchor="end">−1.5</text>
<text transform="translate(83.35 348.60) scale(1 1.14)" text-anchor="middle">−1.0</text>
<text transform="translate(18.90 303.70) scale(1 1.14)" text-anchor="end">−1.0</text>
<text transform="translate(107.87 348.60) scale(1 1.14)" text-anchor="middle">−0.5</text>
<text transform="translate(18.90 287.75) scale(1 1.14)" text-anchor="end">−0.5</text>
<text transform="translate(132.40 348.60) scale(1 1.14)" text-anchor="middle">0.0</text>
<text transform="translate(18.90 271.80) scale(1 1.14)" text-anchor="end">0.0</text>
<text transform="translate(156.93 348.60) scale(1 1.14)" text-anchor="middle">0.5</text>
<text transform="translate(18.90 255.85) scale(1 1.14)" text-anchor="end">0.5</text>
<text transform="translate(181.45 348.60) scale(1 1.14)" text-anchor="middle">1.0</text>
<text transform="translate(18.90 239.90) scale(1 1.14)" text-anchor="end">1.0</text>
<text transform="translate(205.97 348.60) scale(1 1.14)" text-anchor="middle">1.5</text>
<text transform="translate(18.90 223.95) scale(1 1.14)" text-anchor="end">1.5</text>
<text transform="translate(230.50 348.60) scale(1 1.14)" text-anchor="middle">2.0</text>
<text transform="translate(18.90 208.00) scale(1 1.14)" text-anchor="end">2.0</text>
</g>
<text x="64.90" y="375.30" textLength="112.90" lengthAdjust="spacingAndGlyphs" stroke="#1a1a1a" stroke-width="0.15" font-family="'Liberation Serif',serif" font-size="12.6" fill="#1a1a1a">(<tspan font-weight="bold">c</tspan>) ADAMax method</text>
</g>
<g>
<rect x="339.70" y="204.90" width="197.00" height="129.90" fill="#ff0000"/>
<path fill="#0000ff" d="M339.65 274.78H342.78V334.80H339.65zM342.68 274.78H345.23V334.80H342.68zM345.13 274.78H347.68V334.80H345.13zM347.58 274.78H350.13V334.80H347.58zM350.03 274.78H352.58V334.80H350.03zM352.48 273.19H355.03V334.80H352.48zM354.93 273.19H357.48V334.80H354.93zM357.38 273.19H359.93V334.80H357.38zM359.83 273.19H362.39V334.80H359.83zM362.29 273.19H364.84V334.80H362.29zM364.74 273.19H367.29V334.80H364.74zM367.19 273.19H369.74V334.80H367.19zM369.64 273.19H372.19V334.80H369.64zM372.09 273.19H374.64V334.80H372.09zM374.54 273.19H377.09V334.80H374.54zM376.99 273.19H379.54V334.80H376.99zM379.44 273.19H382.00V334.80H379.44zM381.90 273.19H384.45V334.80H381.90zM384.35 274.78H386.90V334.80H384.35zM386.80 274.78H389.35V334.80H386.80zM389.25 274.78H391.80V334.80H389.25zM391.70 274.78H394.25V334.80H391.70zM394.15 274.78H396.70V334.80H394.15zM396.60 276.38H399.15V334.80H396.60zM399.05 276.38H401.61V334.80H399.05zM401.51 277.97H404.06V334.80H401.51zM403.96 277.97H406.51V334.80H403.96zM406.41 279.57H408.96V334.80H406.41zM408.86 281.16H411.41V334.80H408.86zM411.31 262.02H413.86V263.62H411.31zM411.31 281.16H413.86V334.80H411.31zM413.76 260.43H416.31V266.81H413.76zM413.76 282.76H416.31V334.80H413.76zM416.21 260.43H418.76V268.40H416.21zM416.21 284.35H418.76V334.80H416.21zM418.66 258.83H421.22V268.40H418.66zM418.66 284.35H421.22V334.80H418.66zM421.12 255.64H423.67V270.00H421.12zM421.12 285.95H423.67V334.80H421.12zM423.57 255.64H426.12V271.59H423.57zM423.57 287.54H426.12V334.80H423.57zM426.02 254.05H428.57V273.19H426.02zM426.02 287.54H428.57V334.80H426.02zM428.47 254.05H431.02V273.19H428.47zM428.47 289.14H431.02V334.80H428.47zM430.92 254.05H433.47V273.19H430.92zM430.92 289.14H433.47V334.80H430.92zM433.37 252.45H435.92V262.02H433.37zM433.37 268.40H435.92V274.78H433.37zM433.37 289.14H435.92V334.80H433.37zM435.82 252.45H438.37V262.02H435.82zM435.82 270.00H438.37V274.78H435.82zM435.82 290.73H438.37V334.80H435.82zM438.27 250.86H440.83V262.02H438.27zM438.27 271.59H440.83V274.78H438.27zM438.27 290.73H440.83V334.80H438.27zM440.73 249.26H443.28V262.02H440.73zM440.73 271.59H443.28V274.78H440.73zM440.73 290.73H443.28V334.80H440.73zM443.18 249.26H445.73V262.02H443.18zM443.18 271.59H445.73V274.78H443.18zM443.18 289.14H445.73V334.80H443.18zM445.63 249.26H448.18V262.02H445.63zM445.63 285.95H448.18V334.80H445.63zM448.08 249.26H450.63V263.62H448.08zM448.08 285.95H450.63V334.80H448.08zM450.53 247.67H453.08V265.21H450.53zM450.53 284.35H453.08V334.80H450.53zM452.98 247.67H455.53V268.40H452.98zM452.98 284.35H455.53V334.80H452.98zM455.43 247.67H457.98V270.00H455.43zM455.43 285.95H457.98V334.80H455.43zM457.88 249.26H460.44V271.59H457.88zM457.88 277.97H460.44V281.16H457.88zM457.88 285.95H460.44V334.80H457.88zM460.34 250.86H462.89V271.59H460.34zM460.34 277.97H462.89V334.80H460.34zM462.79 254.05H465.34V334.80H462.79zM465.24 255.64H467.79V334.80H465.24zM467.69 257.24H470.24V334.80H467.69zM470.14 260.43H472.69V334.80H470.14zM472.59 263.62H475.14V334.80H472.59zM475.04 265.21H477.59V334.80H475.04zM477.49 266.81H480.05V334.80H477.49zM479.95 270.00H482.50V334.80H479.95zM482.40 273.19H484.95V334.80H482.40zM484.85 274.78H487.40V334.80H484.85zM487.30 274.78H489.85V334.80H487.30zM489.75 277.97H492.30V334.80H489.75zM492.20 279.57H494.75V334.80H492.20zM494.65 281.16H497.20V334.80H494.65zM497.10 281.16H499.66V334.80H497.10zM499.56 282.76H502.11V334.80H499.56zM502.01 284.35H504.56V334.80H502.01zM504.46 284.35H507.01V334.80H504.46zM506.91 285.95H509.46V334.80H506.91zM509.36 285.95H511.91V334.80H509.36zM511.81 287.54H514.36V334.80H511.81zM514.26 287.54H516.81V334.80H514.26zM516.71 287.54H519.27V334.80H516.71zM519.17 289.14H521.72V334.80H519.17zM521.62 289.14H524.17V334.80H521.62zM524.07 290.73H526.62V334.80H524.07zM526.52 290.73H529.07V334.80H526.52zM528.97 290.73H531.52V334.80H528.97zM531.42 290.73H533.97V334.80H531.42zM533.87 290.73H536.75V334.80H533.87z"/>
<g fill="#c0c204"><circle cx="488.58" cy="269.20" r="2.30"/><circle cx="485.33" cy="261.22" r="2.30"/><circle cx="479.18" cy="254.31" r="2.30"/><circle cx="470.75" cy="248.90" r="2.30"/><circle cx="460.79" cy="245.26" r="2.30"/><circle cx="450.12" cy="243.52" r="2.30"/><circle cx="439.55" cy="243.68" r="2.30"/><circle cx="429.82" cy="245.58" r="2.30"/><circle cx="421.57" cy="248.94" r="2.30"/><circle cx="415.28" cy="253.41" r="2.30"/><circle cx="411.25" cy="258.57" r="2.30"/><circle cx="409.56" cy="263.97" r="2.30"/><circle cx="410.13" cy="269.20" r="2.30"/><circle cx="412.72" cy="273.88" r="2.30"/><circle cx="416.91" cy="277.71" r="2.30"/><circle cx="422.22" cy="280.48" r="2.30"/><circle cx="428.11" cy="282.09" r="2.30"/><circle cx="434.05" cy="282.55" r="2.30"/><circle cx="439.55" cy="281.96" r="2.30"/><circle cx="444.20" cy="280.50" r="2.30"/><circle cx="447.72" cy="278.41" r="2.30"/><circle cx="449.95" cy="275.97" r="2.30"/><circle cx="450.87" cy="273.45" r="2.30"/><circle cx="450.60" cy="271.13" r="2.30"/><circle cx="449.36" cy="269.20" r="2.30"/><circle cx="447.44" cy="267.82" r="2.30"/><circle cx="445.21" cy="267.07" r="2.30"/><circle cx="443.02" cy="266.94" r="2.30"/><circle cx="441.18" cy="267.36" r="2.30"/><circle cx="439.97" cy="268.17" r="2.30"/></g>
<g fill="#008000" stroke="#008000" stroke-width="0.7" stroke-linejoin="round"><polygon points="393.77,275.43 394.24,276.53 395.44,276.64 394.53,277.43 394.80,278.60 393.77,277.98 392.75,278.60 393.01,277.43 392.11,276.64 393.30,276.53"/><polygon points="399.92,282.34 400.39,283.44 401.59,283.55 400.68,284.33 400.95,285.50 399.92,284.89 398.89,285.50 399.16,284.33 398.26,283.55 399.45,283.44"/><polygon points="408.35,287.75 408.82,288.85 410.02,288.96 409.11,289.75 409.38,290.92 408.35,290.30 407.32,290.92 407.59,289.75 406.69,288.96 407.88,288.85"/><polygon points="418.31,291.39 418.78,292.50 419.97,292.60 419.07,293.39 419.33,294.56 418.31,293.94 417.28,294.56 417.54,293.39 416.64,292.60 417.84,292.50"/><polygon points="428.98,293.13 429.45,294.23 430.64,294.34 429.74,295.12 430.00,296.29 428.98,295.68 427.95,296.29 428.22,295.12 427.31,294.34 428.51,294.23"/><polygon points="439.55,292.97 440.02,294.07 441.21,294.18 440.31,294.97 440.58,296.14 439.55,295.52 438.52,296.14 438.79,294.97 437.89,294.18 439.08,294.07"/><polygon points="449.28,291.07 449.75,292.18 450.94,292.28 450.04,293.07 450.31,294.24 449.28,293.62 448.25,294.24 448.52,293.07 447.61,292.28 448.81,292.18"/><polygon points="457.53,287.71 458.00,288.81 459.19,288.92 458.29,289.71 458.55,290.88 457.53,290.26 456.50,290.88 456.76,289.71 455.86,288.92 457.06,288.81"/><polygon points="463.82,283.24 464.29,284.34 465.48,284.45 464.58,285.24 464.84,286.41 463.82,285.79 462.79,286.41 463.06,285.24 462.15,284.45 463.35,284.34"/><polygon points="467.85,278.08 468.32,279.19 469.52,279.29 468.62,280.08 468.88,281.25 467.85,280.63 466.83,281.25 467.09,280.08 466.19,279.29 467.38,279.19"/><polygon points="469.54,272.68 470.01,273.78 471.21,273.89 470.30,274.68 470.57,275.84 469.54,275.23 468.51,275.84 468.78,274.68 467.88,273.89 469.07,273.78"/><polygon points="468.97,267.45 469.44,268.55 470.63,268.66 469.73,269.45 469.99,270.62 468.97,270.00 467.94,270.62 468.20,269.45 467.30,268.66 468.49,268.55"/><polygon points="466.38,262.77 466.85,263.87 468.05,263.98 467.15,264.77 467.41,265.94 466.38,265.32 465.36,265.94 465.62,264.77 464.72,263.98 465.91,263.87"/><polygon points="462.19,258.94 462.66,260.05 463.86,260.15 462.95,260.94 463.22,262.11 462.19,261.49 461.17,262.11 461.43,260.94 460.53,260.15 461.72,260.05"/><polygon points="456.88,256.17 457.35,257.27 458.55,257.38 457.64,258.17 457.91,259.34 456.88,258.72 455.85,259.34 456.12,258.17 455.22,257.38 456.41,257.27"/><polygon points="450.99,254.56 451.46,255.66 452.65,255.77 451.75,256.55 452.02,257.72 450.99,257.11 449.96,257.72 450.23,256.55 449.32,255.77 450.52,255.66"/><polygon points="445.05,254.10 445.52,255.20 446.71,255.31 445.81,256.09 446.08,257.26 445.05,256.65 444.02,257.26 444.29,256.09 443.38,255.31 444.58,255.20"/><polygon points="439.55,254.69 440.02,255.79 441.21,255.90 440.31,256.69 440.58,257.86 439.55,257.24 438.52,257.86 438.79,256.69 437.89,255.90 439.08,255.79"/><polygon points="434.90,256.15 435.37,257.25 436.56,257.36 435.66,258.15 435.93,259.32 434.90,258.70 433.87,259.32 434.14,258.15 433.23,257.36 434.43,257.25"/><polygon points="431.38,258.24 431.85,259.34 433.04,259.45 432.14,260.24 432.41,261.41 431.38,260.79 430.35,261.41 430.62,260.24 429.71,259.45 430.91,259.34"/><polygon points="429.15,260.68 429.62,261.79 430.81,261.89 429.91,262.68 430.18,263.85 429.15,263.23 428.12,263.85 428.39,262.68 427.49,261.89 428.68,261.79"/><polygon points="428.23,263.20 428.70,264.30 429.89,264.41 428.99,265.19 429.26,266.36 428.23,265.75 427.20,266.36 427.47,265.19 426.56,264.41 427.76,264.30"/><polygon points="428.50,265.52 428.97,266.63 430.16,266.73 429.26,267.52 429.53,268.69 428.50,268.07 427.47,268.69 427.74,267.52 426.84,266.73 428.03,266.63"/><polygon points="429.75,267.45 430.22,268.55 431.41,268.66 430.51,269.45 430.77,270.62 429.75,270.00 428.72,270.62 428.98,269.45 428.08,268.66 429.27,268.55"/><polygon points="431.66,268.83 432.13,269.93 433.32,270.04 432.42,270.82 432.69,271.99 431.66,271.38 430.63,271.99 430.90,270.82 429.99,270.04 431.19,269.93"/><polygon points="433.89,269.58 434.36,270.68 435.55,270.79 434.65,271.57 434.92,272.74 433.89,272.13 432.86,272.74 433.13,271.57 432.22,270.79 433.42,270.68"/><polygon points="436.08,269.71 436.55,270.81 437.75,270.91 436.84,271.70 437.11,272.87 436.08,272.26 435.05,272.87 435.32,271.70 434.42,270.91 435.61,270.81"/><polygon points="437.92,269.29 438.39,270.39 439.58,270.50 438.68,271.29 438.94,272.46 437.92,271.84 436.89,272.46 437.15,271.29 436.25,270.50 437.45,270.39"/><polygon points="439.13,268.48 439.60,269.58 440.79,269.69 439.89,270.47 440.16,271.64 439.13,271.03 438.10,271.64 438.37,270.47 437.46,269.69 438.66,269.58"/></g>
<rect x="332.30" y="200.80" width="212.10" height="138.40" fill="none" stroke="#787878" stroke-width="1"/>
<path d="M341.50 339.20v2.4M332.30 333.00h-2.4M366.01 339.20v2.4M332.30 317.05h-2.4M390.52 339.20v2.4M332.30 301.10h-2.4M415.04 339.20v2.4M332.30 285.15h-2.4M439.55 339.20v2.4M332.30 269.20h-2.4M464.06 339.20v2.4M332.30 253.25h-2.4M488.58 339.20v2.4M332.30 237.30h-2.4M513.09 339.20v2.4M332.30 221.35h-2.4M537.60 339.20v2.4M332.30 205.40h-2.4" stroke="#3a3a3a" stroke-width="1" fill="none"/>
<g font-family="'DejaVu Sans','Liberation Sans',sans-serif" font-size="6.60" fill="#333333" stroke="#333333" stroke-width="0.08" letter-spacing="-0.35" text-rendering="geometricPrecision">
<text transform="translate(341.50 348.60) scale(1 1.14)" text-anchor="middle">−2.0</text>
<text transform="translate(326.60 335.60) scale(1 1.14)" text-anchor="end">−2.0</text>
<text transform="translate(366.01 348.60) scale(1 1.14)" text-anchor="middle">−1.5</text>
<text transform="translate(326.60 319.65) scale(1 1.14)" text-anchor="end">−1.5</text>
<text transform="translate(390.52 348.60) scale(1 1.14)" text-anchor="middle">−1.0</text>
<text transform="translate(326.60 303.70) scale(1 1.14)" text-anchor="end">−1.0</text>
<text transform="translate(415.04 348.60) scale(1 1.14)" text-anchor="middle">−0.5</text>
<text transform="translate(326.60 287.75) scale(1 1.14)" text-anchor="end">−0.5</text>
<text transform="translate(439.55 348.60) scale(1 1.14)" text-anchor="middle">0.0</text>
<text transform="translate(326.60 271.80) scale(1 1.14)" text-anchor="end">0.0</text>
<text transform="translate(464.06 348.60) scale(1 1.14)" text-anchor="middle">0.5</text>
<text transform="translate(326.60 255.85) scale(1 1.14)" text-anchor="end">0.5</text>
<text transform="translate(488.58 348.60) scale(1 1.14)" text-anchor="middle">1.0</text>
<text transform="translate(326.60 239.90) scale(1 1.14)" text-anchor="end">1.0</text>
<text transform="translate(513.09 348.60) scale(1 1.14)" text-anchor="middle">1.5</text>
<text transform="translate(326.60 223.95) scale(1 1.14)" text-anchor="end">1.5</text>
<text transform="translate(537.60 348.60) scale(1 1.14)" text-anchor="middle">2.0</text>
<text transform="translate(326.60 208.00) scale(1 1.14)" text-anchor="end">2.0</text>
</g>
<text x="371.30" y="375.30" textLength="113.40" lengthAdjust="spacingAndGlyphs" stroke="#1a1a1a" stroke-width="0.15" font-family="'Liberation Serif',serif" font-size="12.6" fill="#1a1a1a">(<tspan font-weight="bold">d</tspan>) Proposed method</text>
</g>
</svg>
</body></html>
